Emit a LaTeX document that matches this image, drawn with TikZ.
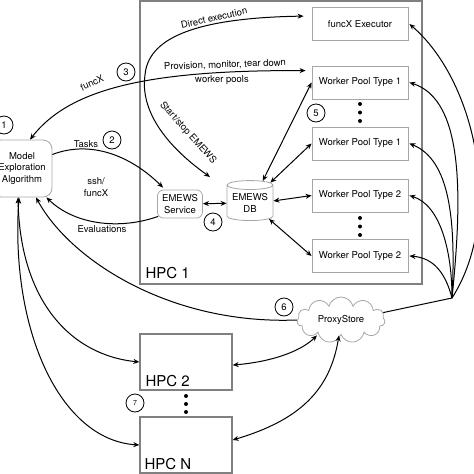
\documentclass[tikz,border=0pt]{standalone}
\usepackage{fontspec}
\setmainfont{TeX Gyre Heros}
\usetikzlibrary{arrows.meta, shapes.geometric, shapes.symbols}

\tikzset{
  txt/.style={font=\fontsize{9.5}{11.5}\selectfont},
  box/.style={txt, draw=black!35, line width=0.8pt, minimum width=96pt,
              minimum height=33pt, inner sep=0pt},
  hpcbox/.style={draw=black!50, line width=1.3pt, inner sep=0pt},
  hpclbl/.style={font=\fontsize{15}{17}\selectfont, inner sep=0pt, anchor=base west},
  numc/.style={txt, circle, draw, line width=0.8pt, minimum size=18pt, inner sep=0pt},
  lbl/.style={txt, inner sep=0pt, align=center},
  arr/.style={line width=1pt, -{Stealth[length=6pt,width=5pt]}},
  arrs/.style={line width=1pt, {Stealth[length=6pt,width=5pt]}-{Stealth[length=6pt,width=5pt]}},
}

\begin{document}
\begin{tikzpicture}[x=1pt, y=-1pt]
  \useasboundingbox (0,0) rectangle (474,474);
  \clip (0,0) rectangle (474,474);

  % hpc 1 and what runs in it
  \node[hpcbox, minimum width=282pt, minimum height=283pt] (hpc1) at (281,142.5) {};
  \node[hpclbl] (hpc1lbl) at ([shift={(6pt,6pt)}]hpc1.south west) {HPC 1};
  \node[box] (exec) at (360,24) {funcX Executor};
  \node[box] (wp1a) at (360,82.5) {Worker Pool Type 1};
  \node[box] (wp1b) at (360,143.5) {Worker Pool Type 1};
  \node[box] (wp2a) at (360,195.5) {Worker Pool Type 2};
  \node[box] (wp2b) at (360,256) {Worker Pool Type 2};
  \foreach \y in {104,112.5,121,218,226.5,235}
    \fill (360,\y) circle (2pt);
  \node[txt, draw=black!35, line width=0.8pt, rounded corners=6pt, align=center,
        minimum width=45pt, minimum height=28pt, inner sep=0pt] (service) at (180,204) {EMEWS\\Service};
  \node[txt, draw=black!35, line width=0.8pt, shape=cylinder, shape border rotate=90,
        aspect=0.25, align=center, minimum width=46pt, minimum height=40pt, inner sep=0pt] (db) at (250,203) {EMEWS\\DB};

  % algorithm, proxystore, other machines
  \node[txt, draw=black!35, line width=0.8pt, rounded corners=9pt, align=center,
        minimum width=60pt, minimum height=57pt, inner sep=0pt] (algo) at (22,168.5) {Model\\Exploration\\Algorithm};
  \node[txt, draw=black!35, line width=0.8pt, shape=cloud, cloud puffs=11, aspect=2,
        minimum width=88pt, minimum height=46pt, inner sep=0pt] (proxy) at (341,320) {ProxyStore};
  \node[hpcbox, minimum width=92pt, minimum height=56pt] (hpc2) at (186,362) {};
  \node[hpclbl] (hpc2lbl) at ([shift={(6pt,4pt)}]hpc2.south west) {HPC 2};
  \node[hpcbox, minimum width=92pt, minimum height=56pt] (hpcn) at (186,445) {};
  \node[hpclbl] (hpcnlbl) at ([shift={(5pt,4pt)}]hpcn.south west) {HPC N};
  \foreach \y in {396,404,412}
    \fill (186,\y) circle (2pt);

  % numbers
  \node[numc] (n1) at (4,125) {1};
  \node[numc] (n2) at (112,140) {2};
  \node[numc] (n3) at (126,72) {3};
  \node[numc] (n4) at (213,222) {4};
  \node[numc] (n5) at (316,113) {5};
  \node[numc] (n6) at (284,307) {6};
  \node[numc, font=\fontsize{7}{8}\selectfont] (n7) at (135,403) {7};

  % algorithm <-> hpc 1
  \coordinate (ss) at (210,177);
  \draw[arrs] ([xshift=8pt]algo.north) .. controls (70,88) and (150,70) .. ([shift={(-6pt,-5pt)}]wp1a.north west);
  \draw[arrs] (ss) .. controls (165,145) and (140,110) .. (145,75)
    .. controls (148,40) and (190,18) .. ([shift={(-8pt,-9pt)}]exec.north west);
  \draw[arr] ([yshift=14pt]algo.east) .. controls (90,140) and (130,155) .. ([shift={(6pt,2pt)}]service.north west);
  \draw[arr] ([shift={(1pt,2pt)}]service.south west) .. controls (120,230) and (75,225) .. ([xshift=-6pt]algo.south east);
  \node[lbl, rotate=24] (lfuncx) at (92,83) {funcX};
  \node[lbl, rotate=13] (ldirect) at (214,18) {Direct execution};
  \node[lbl, rotate=2] (lprov) at (225,65) {Provision, monitor, tear down};
  \node[lbl, rotate=1] (lpools) at (222,80) {worker pools};
  \node[lbl, rotate=-48] (lstart) at (188,133) {Start/stop EMEWS};
  \node[lbl] (ltasks) at (86,144) {Tasks};
  \node[lbl] (lssh) at (96,187) {ssh/\\funcX};
  \node[lbl] (leval) at (102,229) {Evaluations};

  % emews db and worker pools
  \draw[arrs] (service) -- (db);
  \draw[arrs] (db.60) -- (wp1a.west);
  \draw[arrs] (db.45) -- (wp1b.west);
  \draw[arrs] (db.5) -- (wp2a.west);
  \draw[arrs] (db.-40) -- (wp2b.west);

  % fan on the right
  \coordinate (hub) at (452,298);
  \draw[arr] (hub) .. controls (505,215) and (475,80) .. ([xshift=1pt]exec.east);
  \draw[arr] (hub) .. controls (462,200) and (465,100) .. ([xshift=1pt]wp1a.east);
  \draw[arr] (hub) .. controls (456,220) and (450,160) .. ([xshift=1pt]wp1b.east);
  \draw[arr] (hub) .. controls (452,250) and (440,205) .. ([xshift=1pt]wp2a.east);
  \draw[arr] (hub) .. controls (446,275) and (435,258) .. ([xshift=1pt]wp2b.east);
  \draw[line width=1pt] (hub) -- (proxy.10);

  % proxystore and the other hpcs
  \draw[arr] (proxy.west) .. controls (170,325) and (70,260) .. ([xshift=14pt]algo.south);
  \draw[arrs] ([xshift=-4pt]algo.south) .. controls (20,300) and (70,355) .. (hpc2.west);
  \draw[arrs] ([xshift=-3pt]algo.south) .. controls (10,330) and (60,440) .. (hpcn.west);
  \draw[arrs] ([yshift=-3pt]hpc2.east) .. controls (270,362) and (300,352) .. ([xshift=-24pt]proxy.south);
  \draw[arrs] ([yshift=5pt]hpcn.east) .. controls (300,420) and (330,390) .. ([xshift=-2pt]proxy.south);
\end{tikzpicture}
\end{document}
